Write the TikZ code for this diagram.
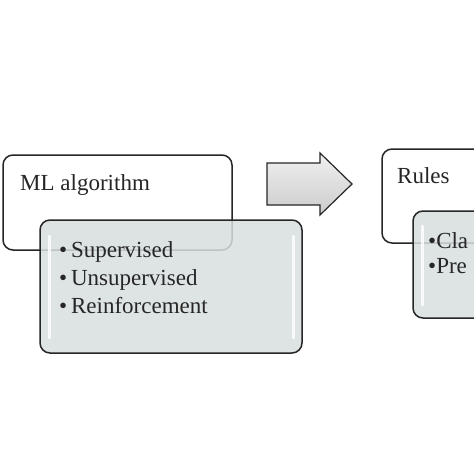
\documentclass[tikz,border=0pt]{standalone}
\usepackage{fontspec}
\setmainfont{Liberation Serif}
\usetikzlibrary{positioning}

\begin{document}
\begin{tikzpicture}[x=1pt, y=-1pt, font=\fontsize{23}{28}\selectfont,
  whitebox/.style={draw=black!85, line width=1.5pt, fill=white, rounded corners=10pt, inner sep=0pt},
  graybox/.style={draw=black!85, line width=1.5pt, fill={rgb,255:red,216;green,222;blue,222},
    fill opacity=0.85, rounded corners=10pt, inner sep=0pt},
  boxtext/.style={anchor=base west, inner sep=0pt, text=black!85},
  gloss/.style={white, line width=3pt, line cap=round, opacity=0.8}]

\useasboundingbox (0,0) rectangle (474,474);
\clip (0,0) rectangle (474,474);

% left pair
\node[whitebox, minimum width=229pt, minimum height=95pt] (mlbox) at (117.5,202.5) {};
\node[boxtext] (mltitle) at (20,190) {ML algorithm};

\node[graybox, minimum width=262pt, minimum height=133pt] (mllist) at (171,286.5) {};
\draw[gloss] (49,236) -- (49,338);
\draw[gloss] (293,236) -- (293,338);
\node[boxtext] (sup) at (59,257) {\textbullet\,Supervised};
\node[boxtext] (unsup) at (59,285) {\textbullet\,Unsupervised};
\node[boxtext] (reinf) at (59,313) {\textbullet\,Reinforcement};

% block arrow
\draw[line width=1.2pt, black!85, top color=gray!12, bottom color=gray!40]
  (267,163) -- (320,163) -- (320,153) -- (352,184) -- (320,215) -- (320,205) -- (267,205) -- cycle;

% right pair
\node[whitebox, minimum width=140pt, minimum height=94pt] (rulebox) at (452,196) {};
\node[boxtext] (ruletitle) at (397,183) {Rules};

\node[graybox, minimum width=140pt, minimum height=107pt] (rulelist) at (483,264.5) {};
\draw[gloss] (422,226) -- (422,305);
\node[boxtext] (cla) at (428,248) {\textbullet Cla};
\node[boxtext] (pre) at (428,273) {\textbullet Pre};

\end{tikzpicture}
\end{document}
